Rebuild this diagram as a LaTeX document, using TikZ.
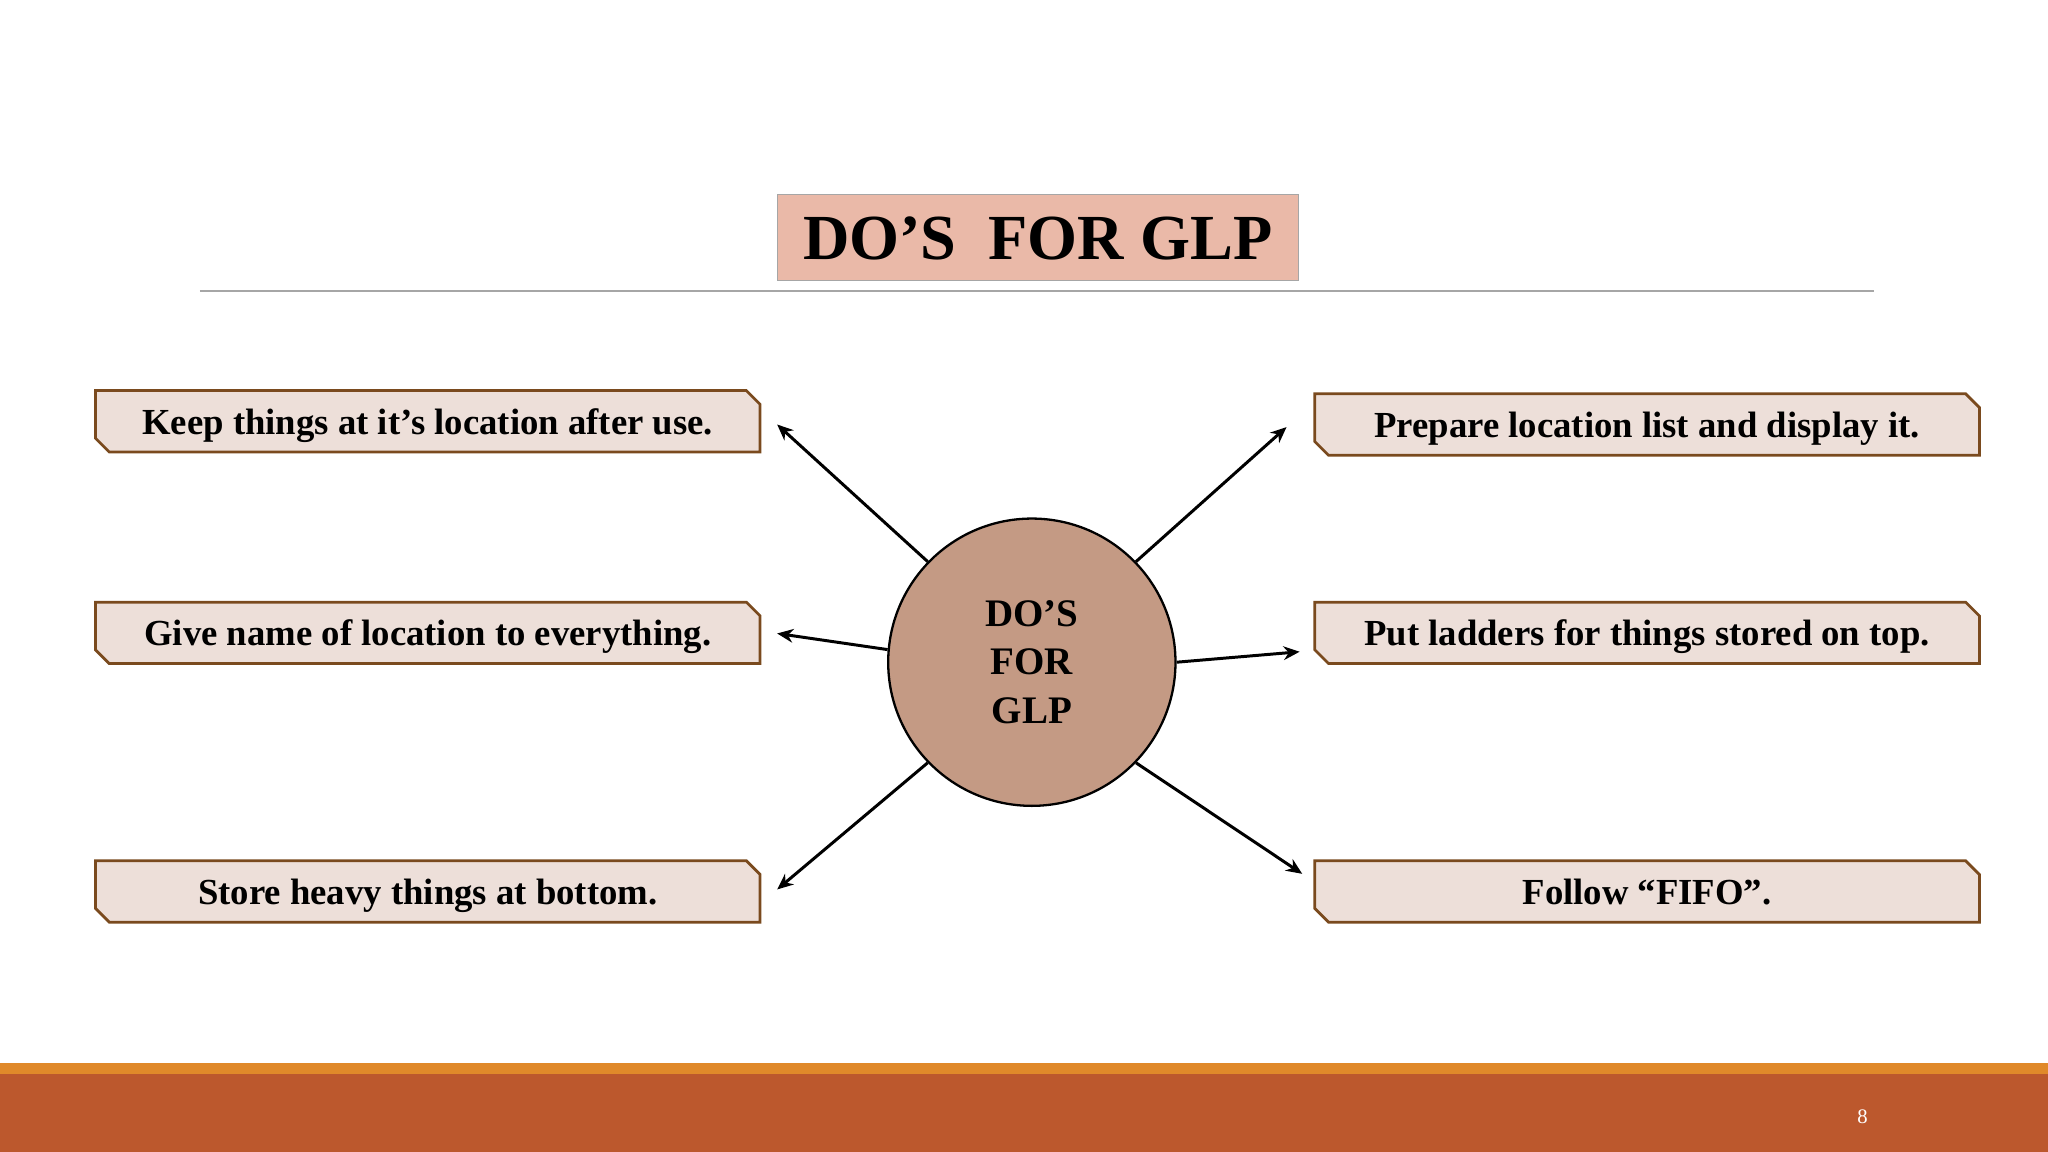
\documentclass[tikz,border=0pt]{standalone}
\usepackage{fontspec}
\setmainfont{Liberation Serif}
\usetikzlibrary{shapes.misc,arrows.meta}
\definecolor{boxfill}{HTML}{EDDFD9}
\definecolor{boxline}{HTML}{7A4A1E}
\definecolor{titlefill}{HTML}{EAB9A8}
\definecolor{circfill}{HTML}{C49A84}
\definecolor{barorange}{HTML}{E0892A}
\definecolor{barrust}{HTML}{BC582D}
\tikzset{
  item/.style={chamfered rectangle, chamfered rectangle corners={north east,south west}, chamfered rectangle xsep=3pt, chamfered rectangle ysep=3pt,
    draw=boxline, line width=1.2pt, fill=boxfill, minimum width=10.18cm, minimum height=0.94cm, inner sep=0pt, text depth=0pt,
    font=\fontsize{16}{19}\selectfont\bfseries},
  arr/.style={-{Stealth[length=7pt,width=6pt]}, line width=1.3pt, black}
}
\begin{document}
\begin{tikzpicture}[x=0.02cm,y=-0.02cm]
\useasboundingbox (0,0) rectangle (1568,882);
\fill[white] (0,0) rectangle (1568,882);
\fill[barorange] (0,814) rectangle (1568,823);
\fill[barrust] (0,822) rectangle (1568,882);
\node[text=white, font=\fontsize{9}{10}\selectfont] (pg) at (1426,855) {8};
\node[draw=black!35, fill=titlefill, minimum width=7.98cm, minimum height=1.32cm, text depth=0pt, font=\fontsize{28}{32}\selectfont\bfseries] (title) at (794.5,182) {DO’S\ \ FOR GLP};
\draw[black!35, line width=0.8pt] (153,223) -- (1435,223);
\node[circle, draw=black, line width=1pt, fill=circfill, minimum size=4.4cm, align=center, font=\fontsize{17}{21}\selectfont\bfseries] (c) at (790,507) {DO’S\\FOR\\GLP};
\node[item] (l1) at (327.5,322.5) {Keep things at it’s location after use.};
\node[item] (l2) at (327.5,484.5) {Give name of location to everything.};
\node[item] (l3) at (327.5,682.5) {Store heavy things at bottom.};
\node[item] (r1) at (1261,325) {Prepare location list and display it.};
\node[item] (r2) at (1261,484.5) {Put ladders for things stored on top.};
\node[item] (r3) at (1261,682.5) {Follow “FIFO”.};
\coordinate (e1) at (595,325);
\coordinate (e2) at (595,485);
\coordinate (e3) at (595,681);
\coordinate (e4) at (985,327);
\coordinate (e5) at (995,499);
\coordinate (e6) at (997,669);
\draw[arr] (c.136) -- (e1);
\draw[arr] (c.175) -- (e2);
\draw[arr] (c.224) -- (e3);
\draw[arr] (c.44) -- (e4);
\draw[arr] (c.0) -- (e5);
\draw[arr] (c.316) -- (e6);
\end{tikzpicture}
\end{document}
